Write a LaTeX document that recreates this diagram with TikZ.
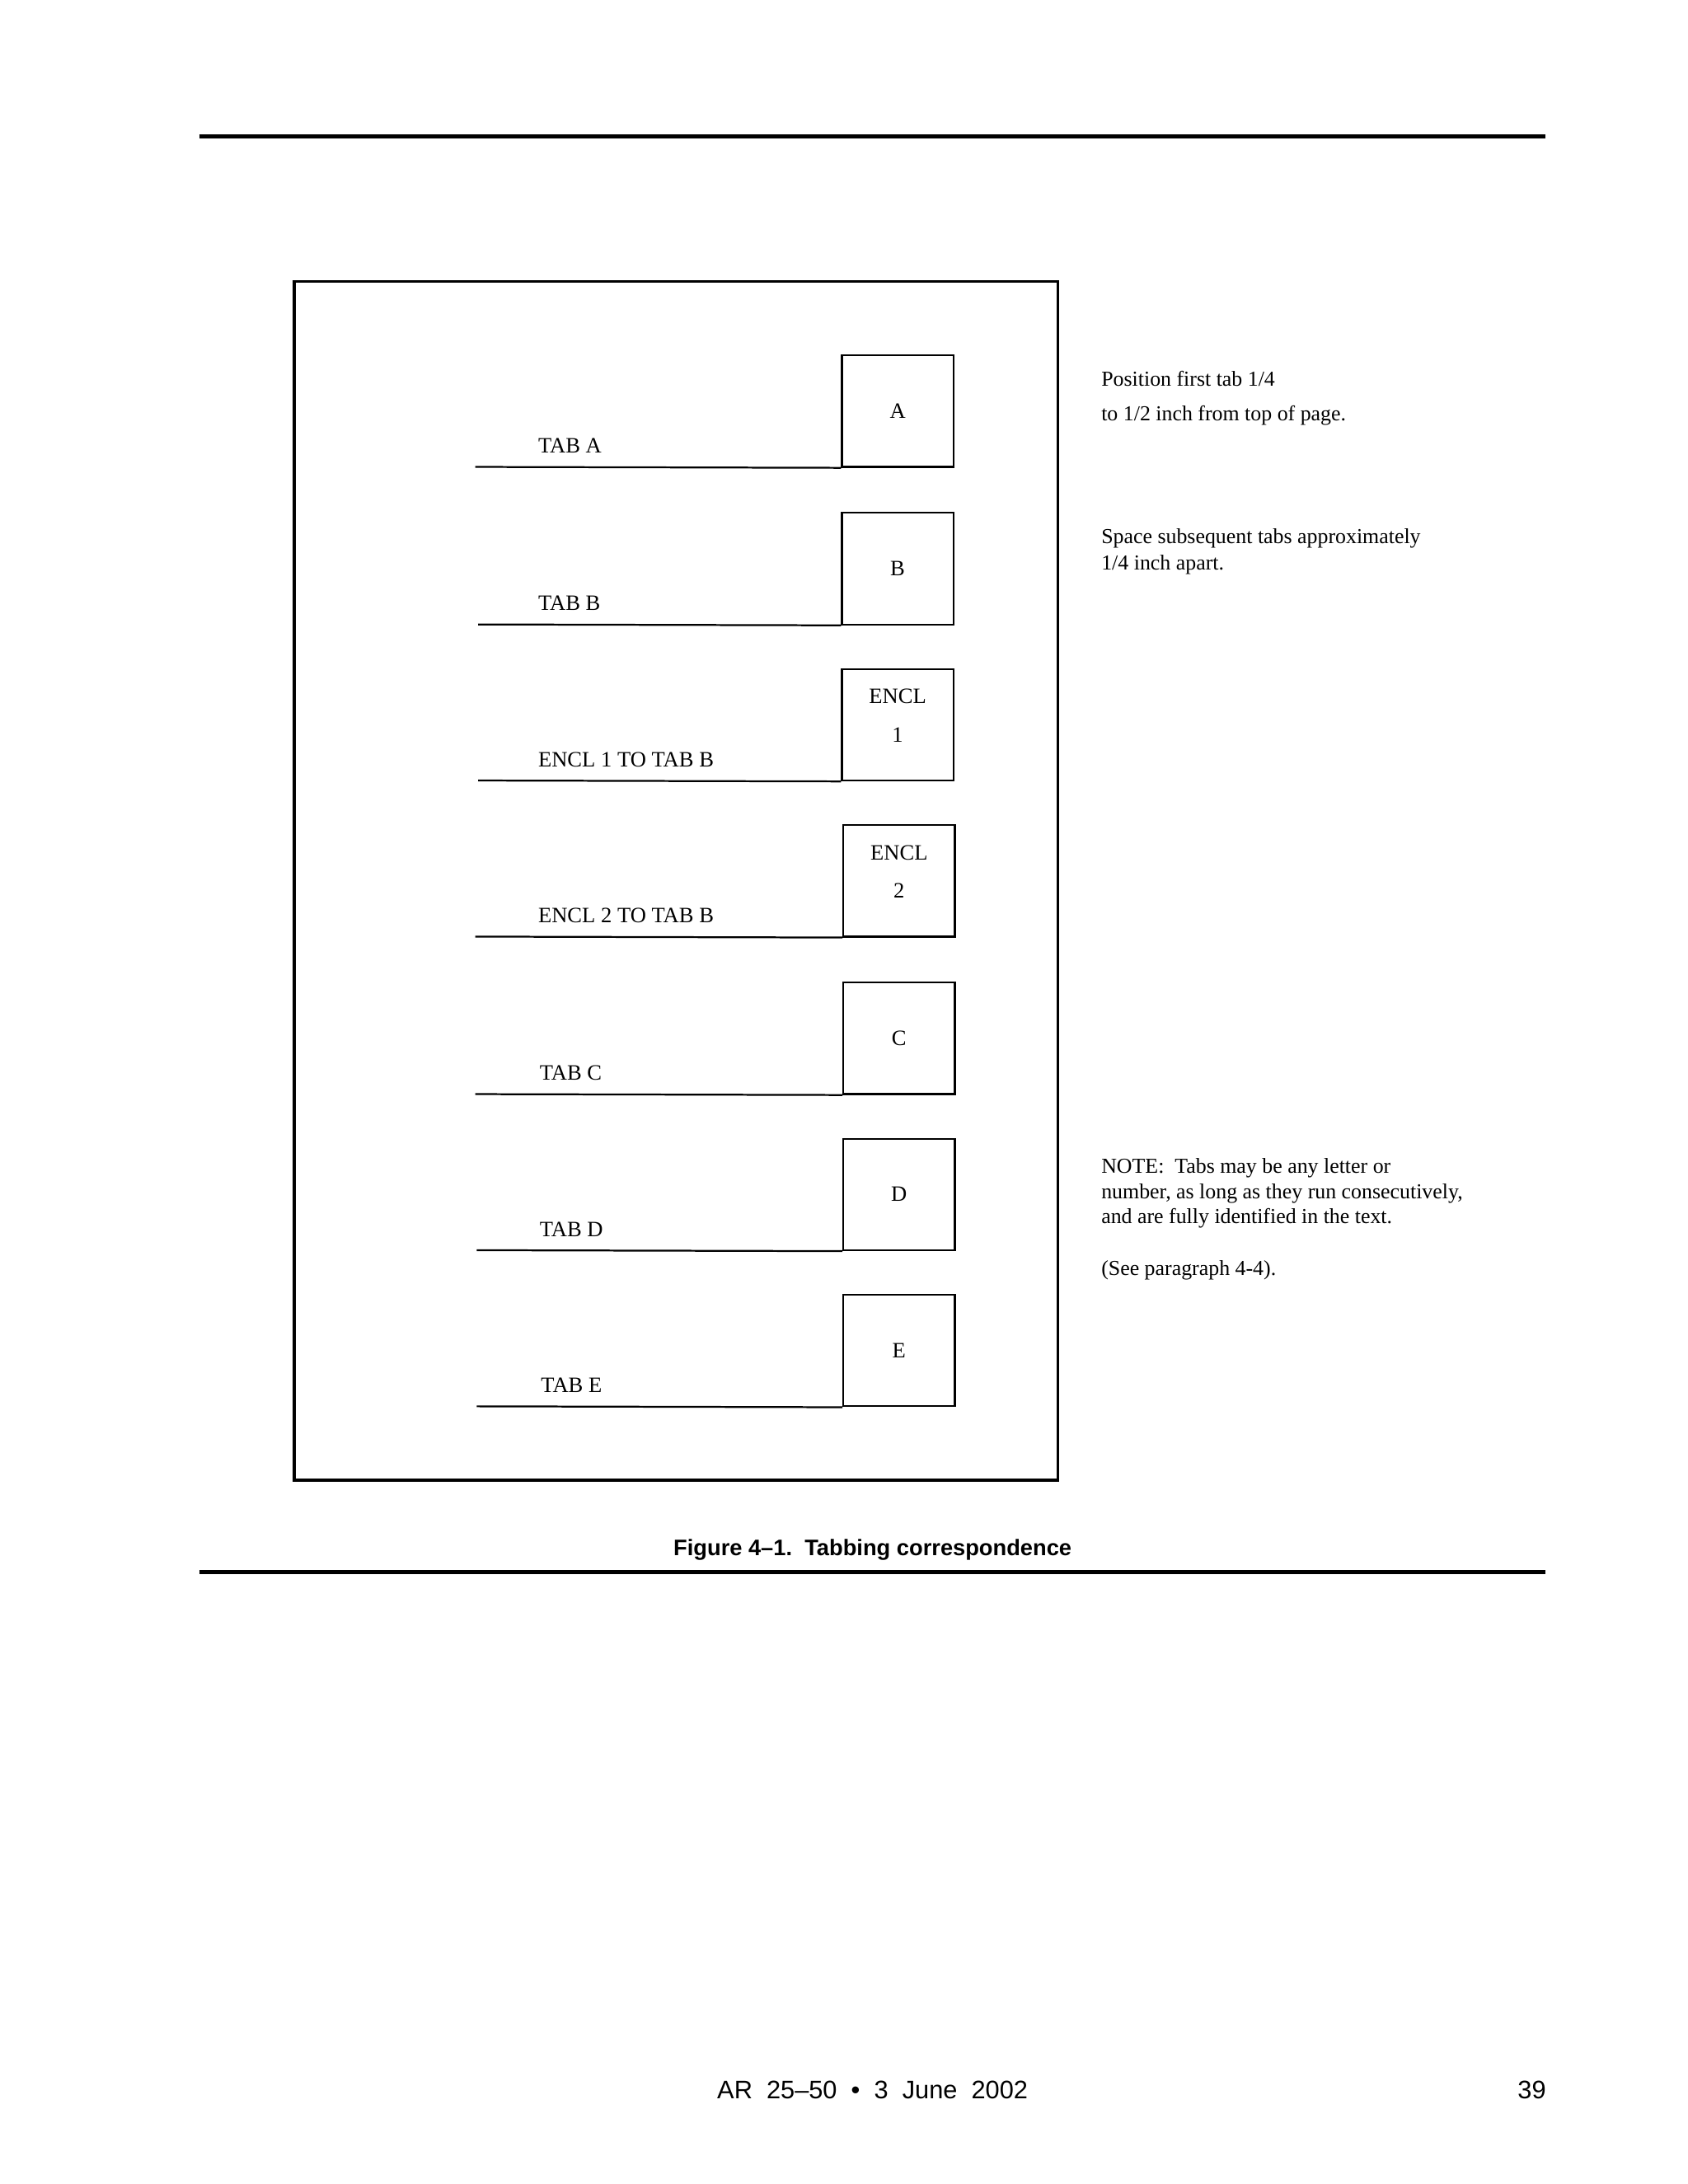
\documentclass[tikz,border=0pt]{standalone}
\usepackage{fontspec}
\setmainfont{Liberation Serif}
\newfontfamily\capfont{Liberation Sans}
\begin{document}
\begin{tikzpicture}[x=0.0425cm,y=-0.0425cm,
  tabbox/.style={draw,line width=1.6pt,minimum width=80*0.0425cm,minimum height=80*0.0425cm,inner sep=0,align=center,font=\fontsize{19}{22}\selectfont},
  lbl/.style={anchor=base west,inner sep=0,font=\fontsize{19}{22}\selectfont},
  note/.style={anchor=base west,inner sep=0,align=left,font=\fontsize{18.5}{22}\selectfont}]
\useasboundingbox (0,0) rectangle (1211,1567);
\draw[line width=3.6pt] (143,98) -- (1109,98);
\draw[line width=3.6pt] (143,1128) -- (1109,1128);
\node[draw,line width=2.4pt,minimum width=548*0.0425cm,minimum height=860*0.0425cm,inner sep=0] (frame) at (485,632) {};
\foreach \y/\lx/\tx/\bx/\lab/\bl [count=\i] in {335/341/386/644/TAB A/A, 448/343/386/644/TAB B/B, 560/343/386/644/ENCL 1 TO TAB B/{ENCL\\[11pt]1\\[-6pt]}, 672/341/386/645/ENCL 2 TO TAB B/{ENCL\\[11pt]2\\[-6pt]}, 785/341/387/645/TAB C/C, 897/342/387/645/TAB D/D, 1009/342/388/645/TAB E/E}{
  \node[tabbox] (b\i) at (\bx,\y-40) {\bl};
  \coordinate (l\i) at (\lx,\y);
  \draw[line width=1.6pt] (l\i) -- (b\i.south west);
  \node[lbl] (t\i) at (\tx,\y-10) {\lab};
}
\node[note] (n1) at (790,277) {Position first tab 1/4};
\node[note] (n2) at (790,302) {to 1/2 inch from top of page.};
\node[note] (n3) at (790,390) {Space subsequent tabs approximately};
\node[note] (n4) at (790,409) {1/4 inch apart.};
\node[note] (n5) at (790,842) {NOTE:\ \ Tabs may be any letter or};
\node[note] (n6) at (790,860) {number, as long as they run consecutively,};
\node[note] (n7) at (790,878) {and are fully identified in the text.};
\node[note] (n8) at (790,915) {(See paragraph 4-4).};
\node[font=\capfont\bfseries\fontsize{19.5}{22}\selectfont,anchor=base] (cap) at (626,1116) {Figure 4–1.\ \ Tabbing correspondence};
\node[font=\capfont\fontsize{22}{24}\selectfont,anchor=base] (foot) at (626,1506) {AR\ \ 25–50\ \ •\ \ 3\ \ June\ \ 2002};
\node[font=\capfont\fontsize{22}{24}\selectfont,anchor=base] (pg) at (1099,1506) {39};
\end{tikzpicture}
\end{document}
